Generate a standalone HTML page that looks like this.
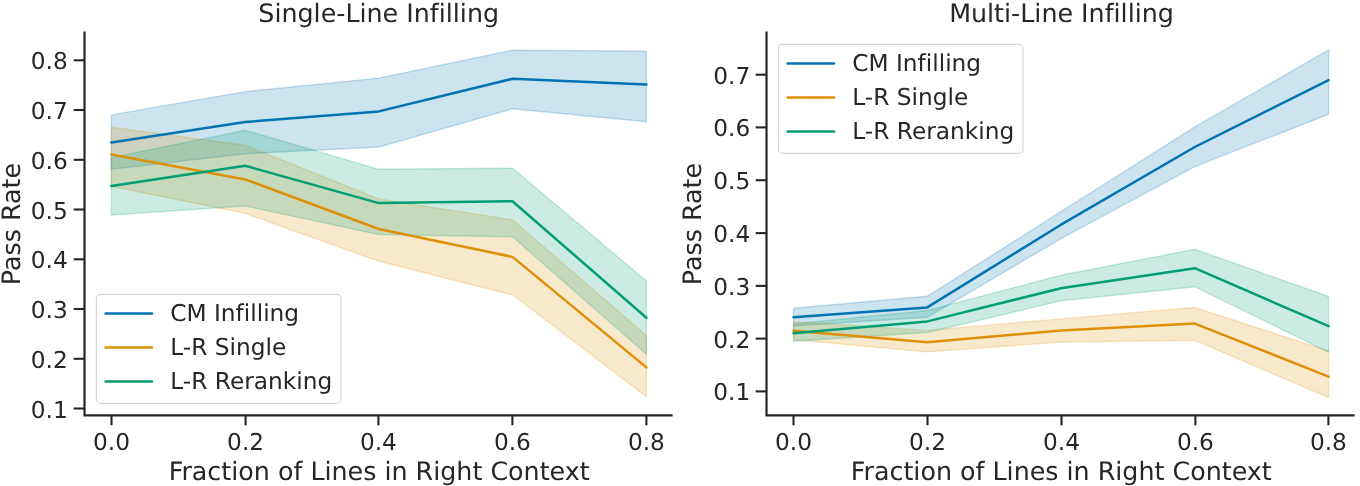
<!DOCTYPE html>
<html lang="en">
<head>
<meta charset="utf-8">
<title>Infilling pass rate</title>
<style>
html,body{margin:0;padding:0;background:#fff;}
body{width:1360px;height:486px;overflow:hidden;}
svg{display:block;}
text{font-family:"DejaVu Sans","Liberation Sans",sans-serif;fill:#262626;text-rendering:geometricPrecision;font-variant-ligatures:none;font-feature-settings:"liga" 0,"clig" 0;}
.lb{font-size:25.35px;}
.tk{font-size:23.25px;}
.lg{font-size:23.25px;}
</style>
</head>
<body>
<svg width="1360" height="486" viewBox="0 0 1360 486">
<rect width="1360" height="486" fill="#ffffff"/>
<g id="left-panel">
<polygon points="111.4,114.9 245.2,91.6 378.8,78.1 512.5,50.2 646.4,51.1 646.4,121.8 512.5,108.8 378.8,147.0 245.2,153.7 111.4,169.2" fill="#0173b2" fill-opacity="0.2" stroke="#0173b2" stroke-opacity="0.22" stroke-width="1.4" stroke-linejoin="miter"/>
<polygon points="111.4,127.2 245.2,145.2 378.8,199.0 512.5,219.8 646.4,335.6 646.4,396.7 512.5,294.8 378.8,261.2 245.2,213.3 111.4,186.5" fill="#de8f05" fill-opacity="0.2" stroke="#de8f05" stroke-opacity="0.22" stroke-width="1.4" stroke-linejoin="miter"/>
<polygon points="111.4,157.6 245.2,130.2 378.8,169.3 512.5,168.3 646.4,281.0 646.4,354.1 512.5,236.8 378.8,234.5 245.2,206.0 111.4,214.9" fill="#029e73" fill-opacity="0.2" stroke="#029e73" stroke-opacity="0.22" stroke-width="1.4" stroke-linejoin="miter"/>
<polyline points="111.4,142.5 245.2,122.0 378.8,111.4 512.5,78.8 646.4,84.4" fill="none" stroke="#0173b2" stroke-width="2.5" stroke-linecap="round" stroke-linejoin="round"/>
<polyline points="111.4,154.4 245.2,179.4 378.8,229.0 512.5,256.9 646.4,367.4" fill="none" stroke="#de8f05" stroke-width="2.5" stroke-linecap="round" stroke-linejoin="round"/>
<polyline points="111.4,186.0 245.2,165.8 378.8,203.1 512.5,201.3 646.4,317.7" fill="none" stroke="#029e73" stroke-width="2.5" stroke-linecap="round" stroke-linejoin="round"/>
<path d="M84.5,31.4 L84.5,415.3 L672.6,415.3" fill="none" stroke="#262626" stroke-width="2.2" stroke-linecap="butt" stroke-linejoin="miter"/>
<line x1="111.5" y1="415.3" x2="111.5" y2="425.3" stroke="#262626" stroke-width="2.1"/>
<line x1="245.6" y1="415.3" x2="245.6" y2="425.3" stroke="#262626" stroke-width="2.1"/>
<line x1="378.4" y1="415.3" x2="378.4" y2="425.3" stroke="#262626" stroke-width="2.1"/>
<line x1="512.4" y1="415.3" x2="512.4" y2="425.3" stroke="#262626" stroke-width="2.1"/>
<line x1="646.4" y1="415.3" x2="646.4" y2="425.3" stroke="#262626" stroke-width="2.1"/>
<line x1="73.7" y1="408.5" x2="84.5" y2="408.5" stroke="#262626" stroke-width="2.1"/>
<line x1="73.7" y1="358.8" x2="84.5" y2="358.8" stroke="#262626" stroke-width="2.1"/>
<line x1="73.7" y1="309.0" x2="84.5" y2="309.0" stroke="#262626" stroke-width="2.1"/>
<line x1="73.7" y1="259.3" x2="84.5" y2="259.3" stroke="#262626" stroke-width="2.1"/>
<line x1="73.7" y1="209.5" x2="84.5" y2="209.5" stroke="#262626" stroke-width="2.1"/>
<line x1="73.7" y1="159.8" x2="84.5" y2="159.8" stroke="#262626" stroke-width="2.1"/>
<line x1="73.7" y1="110.0" x2="84.5" y2="110.0" stroke="#262626" stroke-width="2.1"/>
<line x1="73.7" y1="60.3" x2="84.5" y2="60.3" stroke="#262626" stroke-width="2.1"/>
<text class="tk" x="111.5" y="450" text-anchor="middle">0.0</text>
<text class="tk" x="245.6" y="450" text-anchor="middle">0.2</text>
<text class="tk" x="378.4" y="450" text-anchor="middle">0.4</text>
<text class="tk" x="512.4" y="450" text-anchor="middle">0.6</text>
<text class="tk" x="646.4" y="450" text-anchor="middle">0.8</text>
<text class="tk" x="67.7" y="417.5" text-anchor="end">0.1</text>
<text class="tk" x="67.7" y="367.8" text-anchor="end">0.2</text>
<text class="tk" x="67.7" y="318.0" text-anchor="end">0.3</text>
<text class="tk" x="67.7" y="268.3" text-anchor="end">0.4</text>
<text class="tk" x="67.7" y="218.5" text-anchor="end">0.5</text>
<text class="tk" x="67.7" y="168.8" text-anchor="end">0.6</text>
<text class="tk" x="67.7" y="119.0" text-anchor="end">0.7</text>
<text class="tk" x="67.7" y="69.3" text-anchor="end">0.8</text>
<text class="lb" x="378.7" y="22.0" text-anchor="middle">Single-Line Infilling</text>
<text class="lb" x="379.2" y="480" text-anchor="middle">Fraction of Lines in Right Context</text>
<text class="lb" transform="translate(19.5,224.0) rotate(-90)" text-anchor="middle">Pass Rate</text>
<rect x="96.4" y="294.4" width="244.6" height="109.0" rx="4.5" ry="4.5" fill="#ffffff" fill-opacity="0.8" stroke="#cccccc" stroke-opacity="0.8" stroke-width="1.2"/>
<line x1="105.6" y1="313.5" x2="152.0" y2="313.5" stroke="#0173b2" stroke-width="2.5" stroke-linecap="round"/>
<text class="lg" x="170.3" y="321.2">CM Infilling</text>
<line x1="105.6" y1="347.5" x2="152.0" y2="347.5" stroke="#de8f05" stroke-width="2.5" stroke-linecap="round"/>
<text class="lg" x="170.3" y="355.2">L-R Single</text>
<line x1="105.6" y1="381.6" x2="152.0" y2="381.6" stroke="#029e73" stroke-width="2.5" stroke-linecap="round"/>
<text class="lg" x="170.3" y="389.3">L-R Reranking</text>
</g>
<g id="right-panel">
<polygon points="793.5,308.3 927.3,296.3 1061.0,211.7 1194.8,126.9 1328.6,49.9 1328.6,114.2 1194.8,166.6 1061.0,238.6 927.3,317.3 793.5,326.0" fill="#0173b2" fill-opacity="0.2" stroke="#0173b2" stroke-opacity="0.22" stroke-width="1.4" stroke-linejoin="miter"/>
<polygon points="793.5,321.8 927.3,330.4 1061.0,318.9 1194.8,307.5 1328.6,351.0 1328.6,397.5 1194.8,340.4 1061.0,342.0 927.3,351.9 793.5,339.7" fill="#de8f05" fill-opacity="0.2" stroke="#de8f05" stroke-opacity="0.22" stroke-width="1.4" stroke-linejoin="miter"/>
<polygon points="793.5,324.0 927.3,310.5 1061.0,275.3 1194.8,249.3 1328.6,296.5 1328.6,352.2 1194.8,286.7 1061.0,300.7 927.3,332.5 793.5,341.2" fill="#029e73" fill-opacity="0.2" stroke="#029e73" stroke-opacity="0.22" stroke-width="1.4" stroke-linejoin="miter"/>
<polyline points="793.5,317.2 927.3,307.4 1061.0,224.7 1194.8,147.0 1328.6,80.2" fill="none" stroke="#0173b2" stroke-width="2.5" stroke-linecap="round" stroke-linejoin="round"/>
<polyline points="793.5,330.7 927.3,342.2 1061.0,330.5 1194.8,323.6 1328.6,376.6" fill="none" stroke="#de8f05" stroke-width="2.5" stroke-linecap="round" stroke-linejoin="round"/>
<polyline points="793.5,333.2 927.3,321.4 1061.0,288.2 1194.8,268.2 1328.6,326.2" fill="none" stroke="#029e73" stroke-width="2.5" stroke-linecap="round" stroke-linejoin="round"/>
<path d="M766.5,31.4 L766.5,415.3 L1354.6,415.3" fill="none" stroke="#262626" stroke-width="2.2" stroke-linecap="butt" stroke-linejoin="miter"/>
<line x1="793.5" y1="415.3" x2="793.5" y2="425.3" stroke="#262626" stroke-width="2.1"/>
<line x1="927.5" y1="415.3" x2="927.5" y2="425.3" stroke="#262626" stroke-width="2.1"/>
<line x1="1061.5" y1="415.3" x2="1061.5" y2="425.3" stroke="#262626" stroke-width="2.1"/>
<line x1="1195.4" y1="415.3" x2="1195.4" y2="425.3" stroke="#262626" stroke-width="2.1"/>
<line x1="1328.4" y1="415.3" x2="1328.4" y2="425.3" stroke="#262626" stroke-width="2.1"/>
<line x1="755.7" y1="391.4" x2="766.5" y2="391.4" stroke="#262626" stroke-width="2.1"/>
<line x1="755.7" y1="338.6" x2="766.5" y2="338.6" stroke="#262626" stroke-width="2.1"/>
<line x1="755.7" y1="285.9" x2="766.5" y2="285.9" stroke="#262626" stroke-width="2.1"/>
<line x1="755.7" y1="233.1" x2="766.5" y2="233.1" stroke="#262626" stroke-width="2.1"/>
<line x1="755.7" y1="180.2" x2="766.5" y2="180.2" stroke="#262626" stroke-width="2.1"/>
<line x1="755.7" y1="127.4" x2="766.5" y2="127.4" stroke="#262626" stroke-width="2.1"/>
<line x1="755.7" y1="74.7" x2="766.5" y2="74.7" stroke="#262626" stroke-width="2.1"/>
<text class="tk" x="793.5" y="450" text-anchor="middle">0.0</text>
<text class="tk" x="927.5" y="450" text-anchor="middle">0.2</text>
<text class="tk" x="1061.5" y="450" text-anchor="middle">0.4</text>
<text class="tk" x="1195.4" y="450" text-anchor="middle">0.6</text>
<text class="tk" x="1328.4" y="450" text-anchor="middle">0.8</text>
<text class="tk" x="750.2" y="400.4" text-anchor="end">0.1</text>
<text class="tk" x="750.2" y="347.6" text-anchor="end">0.2</text>
<text class="tk" x="750.2" y="294.9" text-anchor="end">0.3</text>
<text class="tk" x="750.2" y="242.1" text-anchor="end">0.4</text>
<text class="tk" x="750.2" y="189.2" text-anchor="end">0.5</text>
<text class="tk" x="750.2" y="136.4" text-anchor="end">0.6</text>
<text class="tk" x="750.2" y="83.7" text-anchor="end">0.7</text>
<text class="lb" x="1061.5" y="22.0" text-anchor="middle">Multi-Line Infilling</text>
<text class="lb" x="1061.3" y="480" text-anchor="middle">Fraction of Lines in Right Context</text>
<text class="lb" transform="translate(701.3,224.0) rotate(-90)" text-anchor="middle">Pass Rate</text>
<rect x="778.4" y="44.4" width="244.6" height="109.0" rx="4.5" ry="4.5" fill="#ffffff" fill-opacity="0.8" stroke="#cccccc" stroke-opacity="0.8" stroke-width="1.2"/>
<line x1="787.6" y1="63.5" x2="834.0" y2="63.5" stroke="#0173b2" stroke-width="2.5" stroke-linecap="round"/>
<text class="lg" x="852.3" y="71.2">CM Infilling</text>
<line x1="787.6" y1="97.5" x2="834.0" y2="97.5" stroke="#de8f05" stroke-width="2.5" stroke-linecap="round"/>
<text class="lg" x="852.3" y="105.2">L-R Single</text>
<line x1="787.6" y1="131.6" x2="834.0" y2="131.6" stroke="#029e73" stroke-width="2.5" stroke-linecap="round"/>
<text class="lg" x="852.3" y="139.3">L-R Reranking</text>
</g>
</svg>
</body>
</html>
